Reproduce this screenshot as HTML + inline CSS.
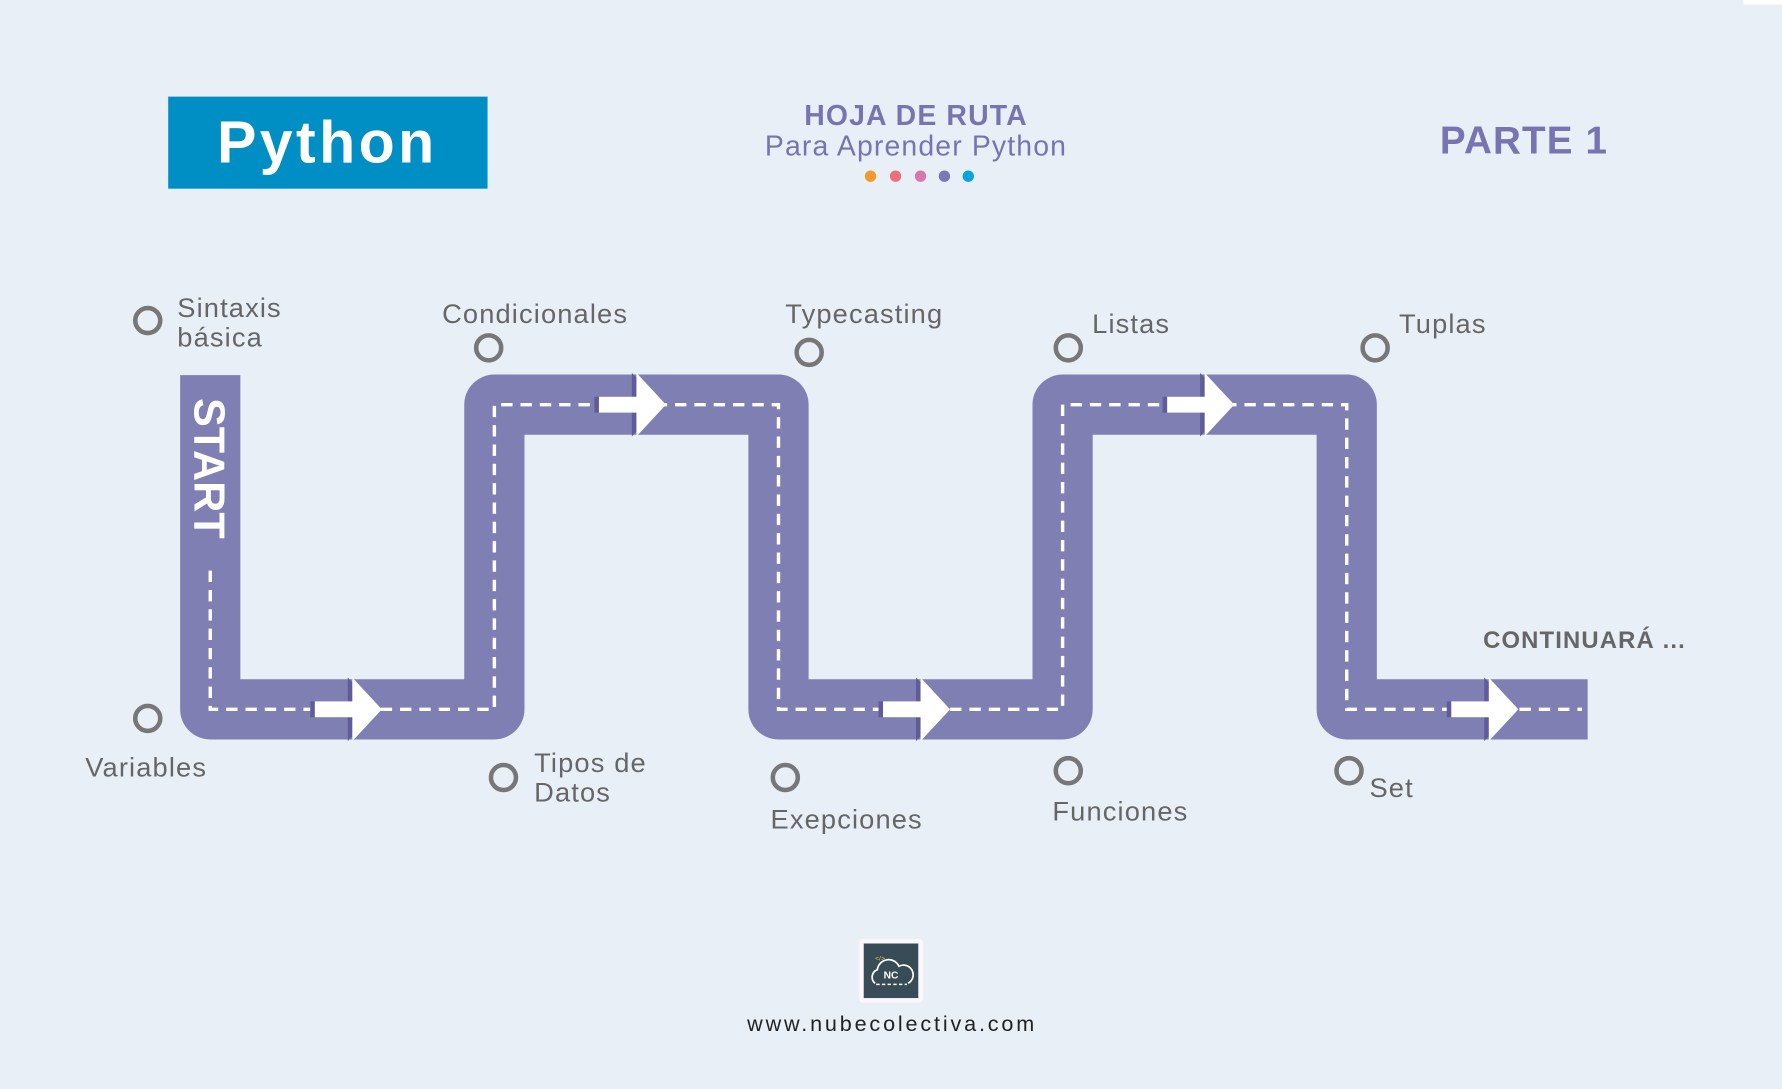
<!DOCTYPE html>
<html><head><meta charset="utf-8"><style>
html,body{margin:0;padding:0;background:#e8eff7;}
svg{display:block;}
</style></head><body>
<svg width="1782" height="1089" viewBox="0 0 1568 958" preserveAspectRatio="none" xmlns="http://www.w3.org/2000/svg" font-family="Liberation Sans, DejaVu Sans, sans-serif">
<rect width="1568" height="958" fill="#e8eff7"/>
<rect x="1534" y="0" width="34" height="4" fill="#fff"/>
<rect x="148" y="85" width="281" height="81" fill="#008fc4"/>
<text x="288" y="143" text-anchor="middle" font-size="52" font-weight="bold" fill="#fff" letter-spacing="3">Python</text>
<text x="806" y="110" text-anchor="middle" font-size="25" font-weight="bold" fill="#7874b1" letter-spacing="1">HOJA DE RUTA</text>
<text x="806" y="137" text-anchor="middle" font-size="25" fill="#7874b1" letter-spacing="1">Para Aprender Python</text>
<circle cx="766" cy="155" r="5" fill="#f39a2a"/>
<circle cx="788" cy="155" r="5" fill="#ee6f7c"/>
<circle cx="810" cy="155" r="5" fill="#d876b0"/>
<circle cx="831" cy="155" r="5" fill="#7c77b5"/>
<circle cx="852" cy="155" r="5" fill="#06a5dd"/>
<text x="1341" y="135" text-anchor="middle" font-size="34" font-weight="900" fill="#7874b1" letter-spacing="1">PARTE 1</text>

<path d="M185 330 V624 H435 V356 H685 V624 H935 V356 H1185 V624 H1397" fill="none" stroke="#807fb4" stroke-width="53" stroke-linejoin="round"/>
<path d="M185 502 V624 H435 V356 H685 V624 H935 V356 H1185 V624 H1392" fill="none" stroke="#fff" stroke-width="3" stroke-dasharray="10 7"/>

<g fill="#5f5c99">
<path d="M273 617 h33 v-21 l26 28 -26 28 v-21 h-33z"/>
<path d="M523 349 h33 v-21 l26 28 -26 28 v-21 h-33z"/>
<path d="M773 617 h33 v-21 l26 28 -26 28 v-21 h-33z"/>
<path d="M1023 349 h33 v-21 l26 28 -26 28 v-21 h-33z"/>
<path d="M1273 617 h33 v-21 l26 28 -26 28 v-21 h-33z"/>
</g>
<g fill="#fff">
<path d="M277 617 h33 v-21 l26 28 -26 28 v-21 h-33z"/>
<path d="M527 349 h33 v-21 l26 28 -26 28 v-21 h-33z"/>
<path d="M777 617 h33 v-21 l26 28 -26 28 v-21 h-33z"/>
<path d="M1027 349 h33 v-21 l26 28 -26 28 v-21 h-33z"/>
<path d="M1277 617 h33 v-21 l26 28 -26 28 v-21 h-33z"/>
</g>
<text transform="translate(171 412) rotate(90)" text-anchor="middle" font-size="38" font-weight="bold" fill="#fff">START</text>

<g fill="none" stroke="#777" stroke-width="4">
<circle cx="130" cy="282" r="11"/>
<circle cx="430" cy="306" r="11"/>
<circle cx="712" cy="310" r="11"/>
<circle cx="940" cy="306" r="11"/>
<circle cx="1210" cy="306" r="11"/>
<circle cx="130" cy="632" r="11"/>
<circle cx="443" cy="684" r="11"/>
<circle cx="691" cy="684" r="11"/>
<circle cx="940" cy="678" r="11"/>
<circle cx="1187" cy="678" r="11"/>
</g>
<g font-size="24" fill="#666" letter-spacing="1">
<text x="156" y="279">Sintaxis</text>
<text x="156" y="305">básica</text>
<text x="389" y="284">Condicionales</text>
<text x="691" y="284">Typecasting</text>
<text x="961" y="293">Listas</text>
<text x="1231" y="293">Tuplas</text>
<text x="75" y="683">Variables</text>
<text x="470" y="679">Tipos de</text>
<text x="470" y="705">Datos</text>
<text x="678" y="729">Exepciones</text>
<text x="926" y="722">Funciones</text>
<text x="1205" y="701">Set</text>
</g>
<text x="1305" y="570" font-size="21" font-weight="bold" fill="#666" letter-spacing="1">CONTINUARÁ ...</text>

<rect x="756" y="826" width="56" height="56" rx="3" fill="#fbf7fb"/>
<rect x="760" y="830" width="48" height="48" fill="#374c57"/>
<path d="M770 865 a7 7 0 0 1 2 -12 a10 10 0 0 1 19 -3 a8 8 0 0 1 8 15" fill="none" stroke="#fff" stroke-width="1.5"/>
<line x1="771" y1="866" x2="798" y2="866" stroke="#fff" stroke-width="1.3" stroke-dasharray="3 2"/>
<text x="784" y="861" text-anchor="middle" font-size="9" font-weight="bold" fill="#fff">NC</text>
<text x="770" y="845" font-size="6" fill="#e8c73b">&lt;/&gt;</text>
<text x="785" y="907" text-anchor="middle" font-size="19" fill="#222" letter-spacing="2.5">www.nubecolectiva.com</text>
</svg>
</body></html>
